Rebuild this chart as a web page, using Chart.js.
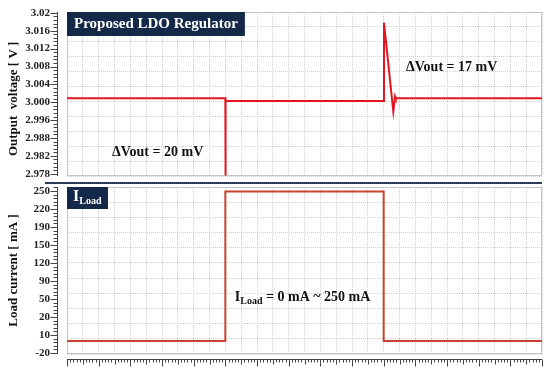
<!DOCTYPE html>
<html>
<head>
<meta charset="utf-8">
<script src="https://cdn.jsdelivr.net/npm/chart.js@4.4.0/dist/chart.umd.min.js"></script>
<style>
html, body { margin: 0; padding: 0; background: #fff; }
#wrap { position: relative; width: 550px; height: 378px; }
#cTop { position: absolute; left: 0; top: 0; }
#cBot { position: absolute; left: 0; top: 185px; }
</style>
</head>
<body>
<div id="wrap">
  <canvas id="cTop" width="550" height="185"></canvas>
  <canvas id="cBot" width="550" height="193"></canvas>
</div>
<script>
// time axis in grid divisions (30 across the plot)
const timeV = [0, 10, 10, 10.03, 20, 20.02, 20.61, 20.72, 20.76, 30];
const voltV = [3.0009, 3.0009, 2.9836, 3.0003, 3.0003, 3.0178, 2.9979, 3.0013, 3.0009, 3.0009];

const timeI = [0, 10, 10, 20, 20, 30];
const currI = [0, 0, 249, 249, 0, 0];

// evenly spaced ticks, labelled as printed in the figure
const voltTickVals = [2.984, 2.988, 2.992, 2.996, 3.000, 3.004, 3.008, 3.012, 3.016, 3.020];
const voltTickLabels = ['2.978', '2.982', '2.988', '2.996', '3.000', '3.004', '3.008', '3.012', '3.016', '3.02'];
const currTickVals = [-20, 10, 40, 70, 100, 130, 160, 190, 220, 250];
const currTickLabels = ['-20', '10', '20', '50', '90', '120', '150', '190', '220', '250'];

const voltNotes = [
  { t: 2.84, v: 2.9887, text: '\u0394Vout = 20 mV' },
  { t: 21.41, v: 3.0079, text: '\u0394Vout = 17 mV' }
];
const currNotes = [{ t: 10.6, v: 72 }];

const serif = "'Liberation Serif', 'Times New Roman', serif";
const navy = '#14284a';
const gridCol = '#cfcfcf';

function yRuler(chart, scale, majors, minorStep) {
  const ctx = chart.ctx;
  const x0 = chart.chartArea.left - 9.5;
  ctx.save();
  ctx.strokeStyle = '#444';
  ctx.lineWidth = 1;
  ctx.beginPath();
  ctx.moveTo(x0, scale.getPixelForValue(scale.max));
  ctx.lineTo(x0, scale.getPixelForValue(scale.min));
  const lo = majors[0];
  for (let i = -10; i < 200; i++) {
    const v = lo + i * minorStep;
    if (v < scale.min || v > scale.max) continue;
    const y = Math.round(scale.getPixelForValue(v)) + 0.5;
    const major = i % 5 === 0;
    ctx.moveTo(x0 - (major ? 7 : 4), y);
    ctx.lineTo(x0, y);
  }
  ctx.stroke();
  ctx.restore();
}

function xRuler(chart) {
  const ctx = chart.ctx, a = chart.chartArea, xs = chart.scales.x;
  const y0 = a.bottom + 5.5;
  ctx.save();
  ctx.strokeStyle = '#444';
  ctx.lineWidth = 1;
  ctx.beginPath();
  ctx.moveTo(a.left, y0);
  ctx.lineTo(a.right, y0);
  for (let i = 0; i <= 150; i++) {
    const x = Math.round(xs.getPixelForValue(i * 0.2)) + 0.5;
    const len = i % 10 === 0 ? 7 : (i % 5 === 0 ? 5 : 3);
    ctx.moveTo(x, y0);
    ctx.lineTo(x, y0 + len);
  }
  ctx.stroke();
  ctx.restore();
}

function drawParts(ctx, parts, x, y) {
  parts.forEach(p => {
    ctx.font = 'bold ' + p.size + 'px ' + serif;
    ctx.fillText(p.t, x, y + (p.dy || 0));
    x += ctx.measureText(p.t).width;
  });
  return x;
}

function frame(chart) {
  const a = chart.chartArea, ctx = chart.ctx;
  ctx.save();
  ctx.strokeStyle = '#c4c4c4';
  ctx.lineWidth = 1;
  ctx.strokeRect(a.left + 0.5, a.top + 0.5, a.right - a.left - 1, a.bottom - a.top - 1);
  ctx.restore();
}

const topDeco = {
  id: 'topDeco',
  beforeDatasetsDraw: frame,
  afterDraw(chart) {
    const ctx = chart.ctx, a = chart.chartArea, xs = chart.scales.x, ys = chart.scales.y;
    yRuler(chart, ys, voltTickVals, 0.0008);
    ctx.save();
    ctx.font = 'bold 15px ' + serif;
    const title = 'Proposed LDO Regulator';
    const w = ctx.measureText(title).width;
    ctx.fillStyle = navy;
    ctx.fillRect(a.left, a.top, w + 14, 24);
    ctx.fillStyle = '#fff';
    ctx.textBaseline = 'middle';
    ctx.fillText(title, a.left + 7, a.top + 12.5);
    ctx.fillStyle = '#111';
    ctx.font = 'bold 14px ' + serif;
    voltNotes.forEach(n => ctx.fillText(n.text, xs.getPixelForValue(n.t), ys.getPixelForValue(n.v)));
    // separator between panels
    ctx.strokeStyle = '#2b3b5a';
    ctx.lineWidth = 2;
    ctx.beginPath();
    ctx.moveTo(45, 183);
    ctx.lineTo(a.right, 183);
    ctx.stroke();
    ctx.restore();
  }
};

const botDeco = {
  id: 'botDeco',
  beforeDatasetsDraw: frame,
  afterDraw(chart) {
    const ctx = chart.ctx, a = chart.chartArea, xs = chart.scales.x, ys = chart.scales.y;
    yRuler(chart, ys, currTickVals, 6);
    xRuler(chart);
    ctx.save();
    ctx.textBaseline = 'middle';
    ctx.fillStyle = navy;
    ctx.fillRect(a.left, a.top, 41, 22);
    ctx.fillStyle = '#fff';
    drawParts(ctx, [{ t: 'I', size: 16 }, { t: 'Load', size: 10, dy: 4 }], a.left + 6, a.top + 10);
    ctx.fillStyle = '#111';
    currNotes.forEach(n => {
      drawParts(ctx, [
        { t: 'I', size: 14 },
        { t: 'Load', size: 10, dy: 4 },
        { t: ' = 0 mA ~ 250 mA', size: 14 }
      ], xs.getPixelForValue(n.t), ys.getPixelForValue(n.v));
    });
    ctx.restore();
  }
};

function baseScales(yOpts, xHeight) {
  return {
    y: yOpts,
    x: {
      type: 'linear', min: 0, max: 30,
      ticks: { display: false, stepSize: 1 },
      grid: { color: gridCol, drawTicks: false },
      border: { display: false, dash: [1, 1] },
      afterFit: s => { s.height = xHeight; s.paddingLeft = 0; s.paddingRight = 0; }
    },
    yg: {
      type: 'linear', position: 'left', min: 0, max: 11,
      ticks: { display: false, stepSize: 1 },
      grid: { color: gridCol, drawTicks: false },
      border: { display: false, dash: [1, 1] },
      afterFit: s => { s.width = 0; s.paddingTop = 0; s.paddingBottom = 0; }
    }
  };
}

function valueAxis(min, max, vals, labels, title) {
  return {
    type: 'linear', position: 'left', min: min, max: max,
    afterBuildTicks: s => { s.ticks = vals.map(v => ({ value: v })); },
    ticks: {
      callback: (v, i) => labels[i],
      autoSkip: false,
      color: '#222',
      padding: 17,
      font: { family: serif, size: 11, weight: 'bold' }
    },
    grid: { drawOnChartArea: false, drawTicks: false },
    border: { display: false },
    title: {
      display: true, text: title, color: '#111',
      padding: { top: 6, bottom: 0 },
      font: { family: serif, size: 13, weight: 'bold' }
    },
    afterFit: s => { s.width = 67; s.paddingTop = 0; s.paddingBottom = 0; }
  };
}

const common = {
  responsive: false,
  animation: false,
  plugins: { legend: { display: false }, tooltip: { enabled: false } },
  elements: { point: { radius: 0 }, line: { tension: 0 } }
};

new Chart(document.getElementById('cTop'), {
  type: 'line',
  data: {
    datasets: [{
      data: timeV.map((t, i) => ({ x: t, y: voltV[i] })),
      xAxisID: 'x', yAxisID: 'y',
      borderColor: '#e3161e',
      borderWidth: 2
    }]
  },
  options: Object.assign({}, common, {
    layout: { padding: { left: 0, right: 8, top: 12, bottom: 0 } },
    scales: baseScales(valueAxis(2.9835, 3.0202, voltTickVals, voltTickLabels, 'Output  voltage [ V ]   '), 9)
  }),
  plugins: [topDeco]
});

new Chart(document.getElementById('cBot'), {
  type: 'line',
  data: {
    datasets: [{
      data: timeI.map((t, i) => ({ x: t, y: currI[i] })),
      xAxisID: 'x', yAxisID: 'y',
      borderColor: '#c8402f',
      borderWidth: 2
    }]
  },
  options: Object.assign({}, common, {
    layout: { padding: { left: 0, right: 8, top: 2, bottom: 0 } },
    scales: baseScales(valueAxis(-21.7, 256.7, currTickVals, currTickLabels, 'Load current [ mA ]'), 24)
  }),
  plugins: [botDeco]
});
</script>
</body>
</html>
